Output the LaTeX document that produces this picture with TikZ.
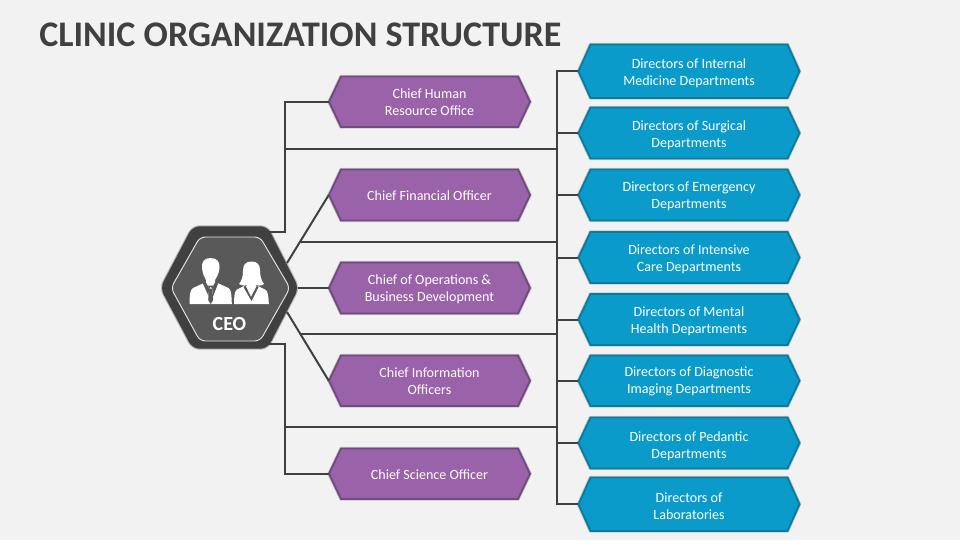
\documentclass[tikz,border=0pt]{standalone}
\usepackage{fontspec}
\setmainfont{Carlito}
\usetikzlibrary{calc}
\definecolor{bgc}{HTML}{F2F2F2}
\definecolor{dark}{HTML}{404040}
\definecolor{mid}{HTML}{595959}
\definecolor{purpf}{HTML}{9A62A8}
\definecolor{purpd}{HTML}{714A80}
\definecolor{bluef}{HTML}{0A9BCB}
\definecolor{blued}{HTML}{0A7D9F}
\tikzset{
 x=0.75pt,y=-0.75pt,
 conn/.style={draw=dark,line width=1.5pt,line cap=butt,line join=miter},
 lab/.style={inner sep=0pt,align=center,text=white,font=\fontsize{10.55pt}{12.75pt}\selectfont},
 purplebox/.style={fill=purpf,draw=purpd},
 bluebox/.style={fill=bluef,draw=blued},
 glow/.style={draw=black!22,line width=2.6pt,line join=round},
 edge/.style={line width=1.4pt,line join=miter},
}
\newcommand{\hexA}{10.7pt}
% name, left x, right x, top y, bottom y, style, text
\newcommand{\hexbox}[7]{%
 \path[glow] (#2,{(#4+#5)/2}) -- (#2+12,#4) -- (#3-12,#4) -- (#3,{(#4+#5)/2}) -- (#3-12,#5) -- (#2+12,#5) -- cycle;
 \path[#6,edge] (#2,{(#4+#5)/2}) -- (#2+12,#4) -- (#3-12,#4) -- (#3,{(#4+#5)/2}) -- (#3-12,#5) -- (#2+12,#5) -- cycle;
 \node[lab,minimum width={(#3-#2)*0.75pt},minimum height={(#5-#4)*0.75pt}] (#1) at ({(#2+#3)/2},{(#4+#5)/2}) {\rule{0pt}{\hexA}#7\rule[-2.5pt]{0pt}{2.5pt}};
}
\begin{document}
\begin{tikzpicture}
\useasboundingbox[fill=bgc] (0,0) rectangle (960,540);
\node[inner sep=0pt,anchor=base west,text=dark,font=\bfseries\fontsize{27pt}{30pt}\selectfont] (title) at (39,46) {CLINIC ORGANIZATION STRUCTURE};

% CEO hexagon
\path[draw=black!30,line width=2.6pt,line join=round,rounded corners=5pt] (161,288) -- (193,227) -- (267,227) -- (298,288) -- (267,348) -- (193,348) -- cycle;
\path[fill=dark,draw=dark,line width=1pt,rounded corners=5pt] (161,288) -- (193,227) -- (267,227) -- (298,288) -- (267,348) -- (193,348) -- cycle;
\path[fill=mid,draw=white!90!black,line width=0.7pt,rounded corners=4pt] (171,288) -- (200,237) -- (260,237) -- (290,288) -- (260,341) -- (200,341) -- cycle;
\node[inner sep=0pt,minimum width=102.75pt,minimum height=90.75pt] (ceo) at (229.5,288) {};
\node[inner sep=0pt,text=white,font=\bfseries\fontsize{15pt}{17pt}\selectfont] (ceolabel) at (229.5,324) {CEO};
% man
\fill[white] (189.5,304) .. controls (189.5,295) and (190,290) .. (193,288) -- (204,283) -- (217.5,283) -- (228.5,288) .. controls (231.5,290) and (231.5,295) .. (231.8,304) -- cycle;
\fill[white] (210.5,258) .. controls (204,258) and (201.5,262) .. (202,268) .. controls (202.5,274) and (205,278) .. (206,280) -- (206,285) -- (215,285) -- (215,280) .. controls (216,278) and (219,274) .. (219.5,268) .. controls (220,262) and (217,258) .. (210.5,258) -- cycle;
\fill[mid] (202.5,282.5) -- (206,282.5) -- (209,288) -- (208.5,296) -- cycle;
\fill[mid] (218.5,282.5) -- (215,282.5) -- (212.2,288) -- (213.2,296) -- cycle;
\fill[mid] (208,285.5) -- (213.2,285.5) -- (212.3,289) -- (213.2,300) -- (210.7,304) -- (208.2,300) -- (209.2,289) -- cycle;
\fill[white] (209.3,288.5) -- (212.1,288.5) -- (210.7,287) -- cycle;
% woman
\fill[white] (234.2,304) .. controls (234,296) and (234.5,291) .. (237,289.5) -- (244,286) -- (258,286) -- (265,289.5) .. controls (268,291) and (268.5,296) .. (268.8,304) -- cycle;
\fill[white] (251.5,261.5) .. controls (245.5,261.5) and (243,265) .. (243,271) .. controls (243,277) and (241.5,281) .. (239,284) .. controls (243,286) and (246,286) .. (248,285) -- (255,285) .. controls (258,286) and (261,286) .. (264,284) .. controls (261.5,281) and (260,276) .. (260,270) .. controls (260,265) and (257.5,261.5) .. (251.5,261.5) -- cycle;
\fill[mid] (243.5,287) -- (245.5,285.5) -- (251,297) -- (257,285.5) -- (258.5,287) -- (251.5,301) -- cycle;
\fill[white] (246.5,285) -- (256,285) -- (251,295) -- cycle;

% boxes
\hexbox{p1}{329}{530}{76.5}{127}{purplebox}{Chief Human\\Resource Office}
\hexbox{p2}{329}{530}{169.5}{220.5}{purplebox}{Chief Financial Officer}
\hexbox{p3}{329}{530}{262.5}{313.5}{purplebox}{Chief of Operations \&\\Business Development}
\hexbox{p4}{329}{530}{355.5}{406}{purplebox}{Chief Information\\Officers}
\hexbox{p5}{329}{530}{448.5}{499}{purplebox}{Chief Science Officer}
\renewcommand{\hexA}{11.7pt}
\hexbox{b1}{578.5}{799.5}{44.5}{98}{bluebox}{Directors of Internal\\Medicine Departments}
\hexbox{b2}{578.5}{799.5}{107.5}{158.5}{bluebox}{Directors of Surgical\\Departments}
\renewcommand{\hexA}{10.2pt}
\hexbox{b3}{578.5}{799.5}{169.5}{220.5}{bluebox}{Directors of Emergency\\Departments}
\hexbox{b4}{578.5}{799.5}{232}{283}{bluebox}{Directors of Intensive\\Care Departments}
\hexbox{b5}{578.5}{799.5}{294}{345}{bluebox}{Directors of Mental\\Health Departments}
\renewcommand{\hexA}{8.7pt}
\hexbox{b6}{578.5}{799.5}{355.5}{406}{bluebox}{Directors of Diagnostic\\Imaging Departments}
\renewcommand{\hexA}{13.2pt}
\hexbox{b7}{578.5}{799.5}{417.5}{468.5}{bluebox}{Directors of Pedantic\\Departments}
\hexbox{b8}{578.5}{799.5}{477.5}{531}{bluebox}{Directors of\\Laboratories}

% junction coordinates
\coordinate (trunk) at (557,0);
\coordinate (lx) at (285,0);
\coordinate (ceoNE) at (268,231.5);
\coordinate (ceoSE) at (268,343.5);
\coordinate (ceoUR) at (287,263);
\coordinate (ceoLR) at (287,312);

\draw[conn] (ceoNE) -| (lx |- p1.west) -- (p1.west);
\draw[conn] (ceoSE) -| (lx |- p5.west) -- (p5.west);
\draw[conn] (ceoUR) -- (p2.west);
\draw[conn] (ceoLR) -- (p4.west);
\draw[conn] (ceo.east) -- (p3.west);
% trunk
\draw[conn] (b1.west) -- (b1.west -| trunk) -- (b8.west -| trunk) -- (b8.west);
\foreach \n in {b2,b3,b4,b5,b6,b7}{\draw[conn] (\n.west -| trunk) -- (\n.west);}
\coordinate (h1) at (285,149);
\coordinate (h4) at (285,427);
\draw[conn] (h1) -- (h1 -| trunk);
\draw[conn] (h4) -- (h4 -| trunk);
\coordinate (h2) at (301,241.5);
\coordinate (h3) at (301,334);
\draw[conn] (h2) -- (h2 -| trunk);
\draw[conn] (h3) -- (h3 -| trunk);
\end{tikzpicture}
\end{document}
